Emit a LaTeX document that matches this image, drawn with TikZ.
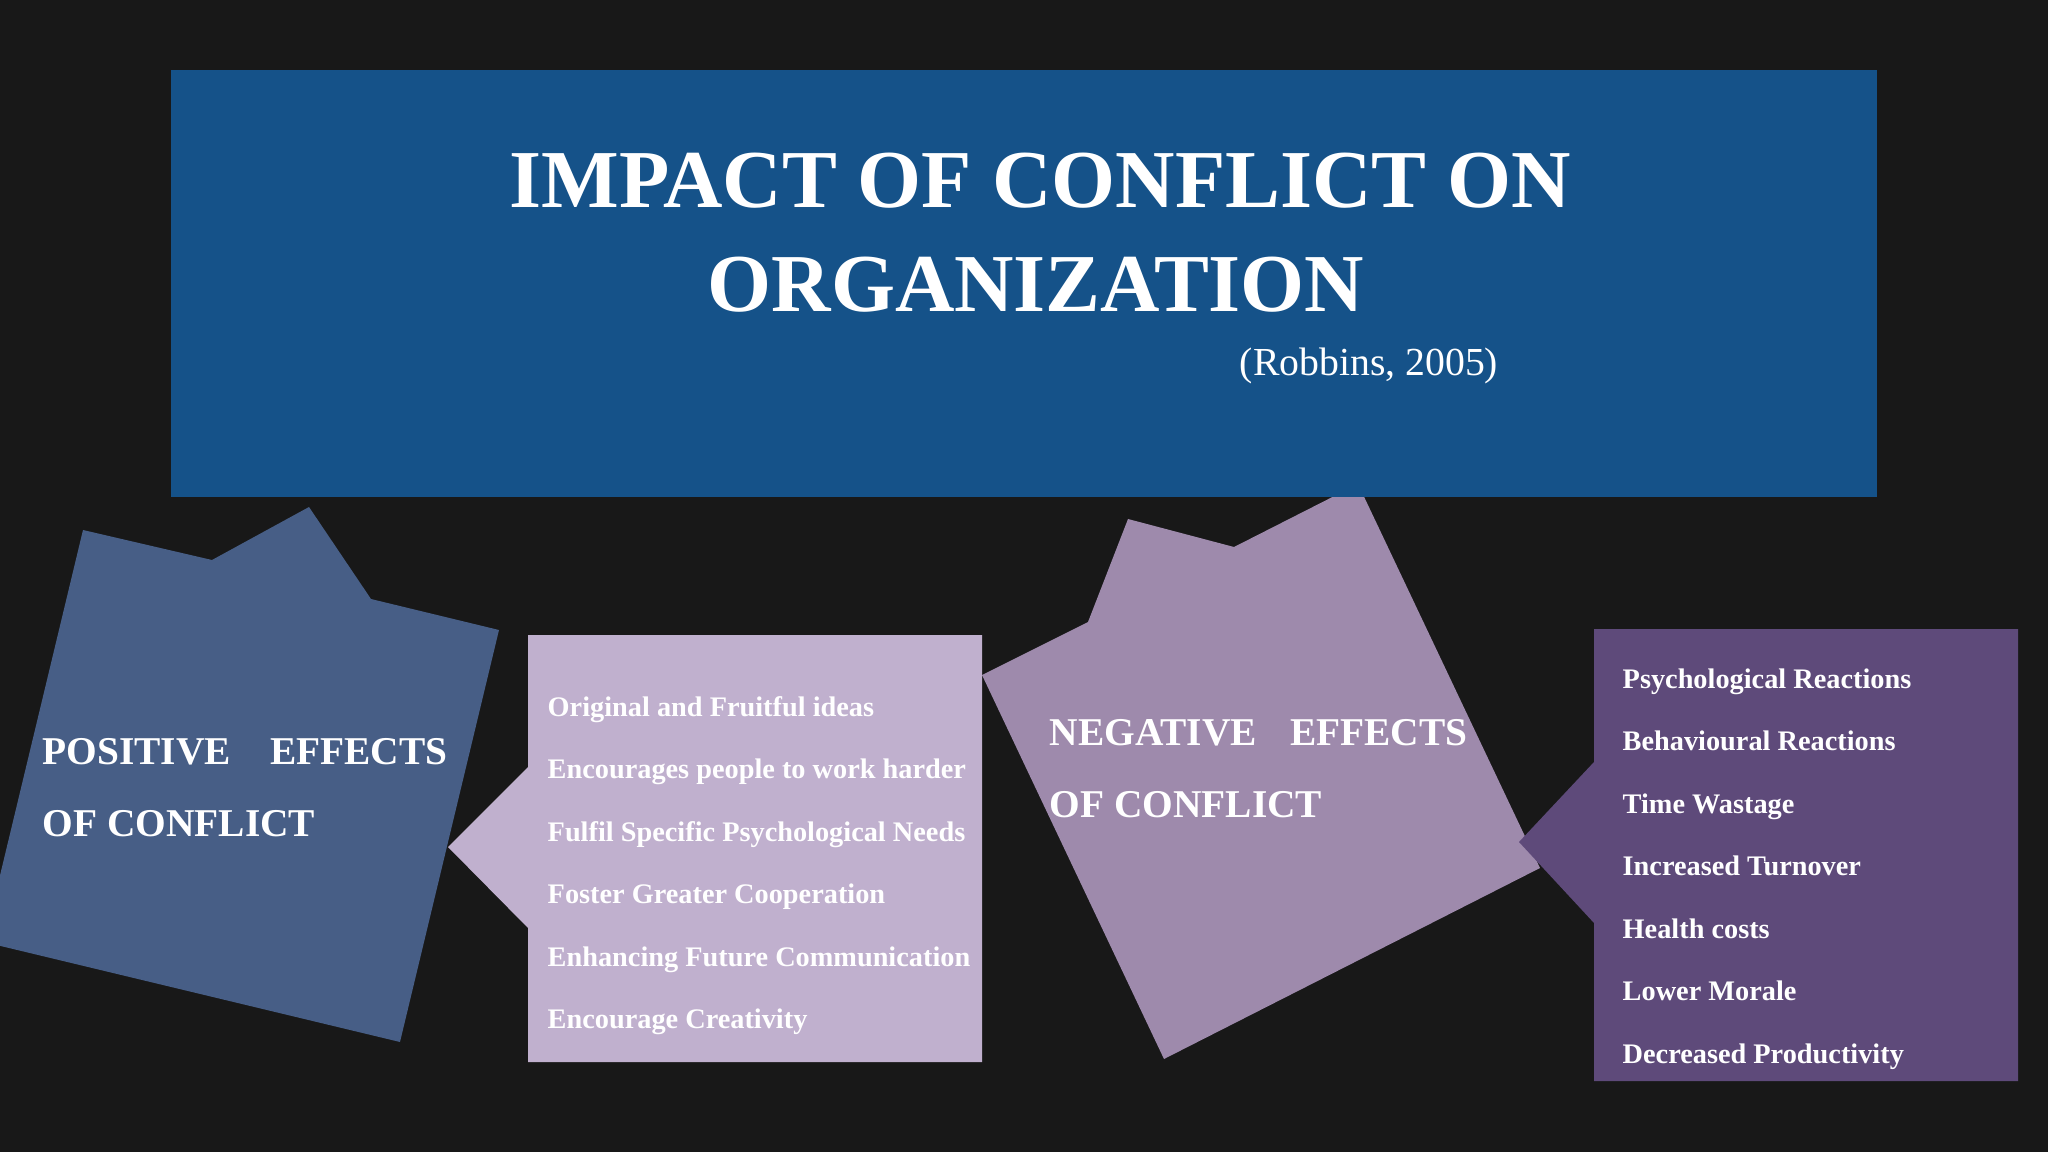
\documentclass[tikz,border=0pt]{standalone}
\usepackage{fontspec}
\setmainfont{Liberation Serif}
\definecolor{bgdark}{HTML}{181818}
\definecolor{titleblue}{HTML}{155289}
\definecolor{posblue}{HTML}{475E86}
\definecolor{poslist}{HTML}{C0B0CE}
\definecolor{neglilac}{HTML}{9E8AAC}
\definecolor{neglist}{HTML}{5E4A7A}
\tikzset{
  heading/.style={text=white, inner sep=0pt, anchor=base west, font=\bfseries\fontsize{11.2}{13}\selectfont},
  listitem/.style={text=white, inner sep=0pt, anchor=base west, font=\bfseries\fontsize{8.05}{10}\selectfont},
  bigtitle/.style={text=white, inner sep=0pt, anchor=base, font=\bfseries\fontsize{23.4}{28}\selectfont}
}
\begin{document}
\begin{tikzpicture}[x=0.01cm, y=-0.01cm]
\fill[bgdark] (0,0) rectangle (2048,1152);
\clip (0,0) rectangle (2048,1152);

% negative square sits under the title box
\fill[neglilac] (982,675)--(1088,622)--(1128,519)--(1234,547)--(1358,484)--(1540,868)--(1164,1059)--cycle;

\fill[titleblue] (171,70) rectangle (1877,497);
\node[bigtitle] (title1) at (1040,208) {IMPACT OF CONFLICT ON};
\node[bigtitle] (title2) at (1036,312) {ORGANIZATION};
\node[text=white, inner sep=0pt, anchor=base, font=\fontsize{11.3}{13}\selectfont] (robbins) at (1369,376) {(Robbins, 2005)};

% positive square
\fill[posblue] (83,530)--(212,560)--(309,507)--(371,599)--(499,630)--(400,1042)--(-16,942)--cycle;
\node[heading] (posA) at (42,764) {POSITIVE\hspace{1em}EFFECTS};
\node[heading] (posB) at (42,836) {OF CONFLICT};

% list boxes with pointers
\fill[poslist] (528,635)--(982,635)--(982,1062)--(528,1062)--(528,928)--(448,847)--(528,767)--cycle;
\fill[neglist] (1594,629)--(2018,629)--(2018,1081)--(1594,1081)--(1594,923)--(1519,842)--(1594,762)--cycle;

\node[heading] (negA) at (1049,745) {NEGATIVE\hspace{.85em}EFFECTS};
\node[heading] (negB) at (1049,817) {OF CONFLICT};

\foreach \y/\t [count=\i] in {716/Original and Fruitful ideas, 778/Encourages people to work harder,
    841/Fulfil Specific Psychological Needs, 903/Foster Greater Cooperation,
    966/Enhancing Future Communication, 1028/Encourage Creativity}
{
    \node[listitem] (pos\i) at (547,\y) {\t};
}
\foreach \y/\t [count=\i] in {688/Psychological Reactions, 750/Behavioural Reactions, 813/Time Wastage,
    875/Increased Turnover, 938/Health costs, 1000/Lower Morale, 1063/Decreased Productivity}
{
    \node[listitem] (neg\i) at (1622,\y) {\t};
}
\end{tikzpicture}
\end{document}
